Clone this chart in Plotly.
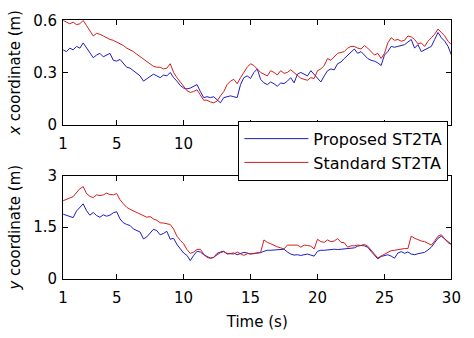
import plotly.graph_objects as go

t_start = 1.0
t_step = 0.25

x_proposed = [0.43, 0.42, 0.44, 0.43, 0.45, 0.44, 0.47, 0.44, 0.41, 0.385,
              0.40, 0.41, 0.39, 0.40, 0.41, 0.37, 0.365, 0.375, 0.35, 0.33,
              0.325, 0.31, 0.30, 0.28, 0.25, 0.265, 0.28, 0.29, 0.28, 0.27,
              0.285, 0.28, 0.30, 0.27, 0.25, 0.225, 0.21, 0.205, 0.21, 0.22,
              0.23, 0.19, 0.155, 0.16, 0.155, 0.16, 0.14, 0.125, 0.155, 0.16,
              0.165, 0.16, 0.155, 0.23, 0.27, 0.28, 0.265, 0.30, 0.32, 0.26,
              0.24, 0.23, 0.245, 0.235, 0.22, 0.24, 0.235, 0.25, 0.27, 0.24,
              0.29, 0.30, 0.29, 0.28, 0.31, 0.29, 0.265, 0.245, 0.28, 0.31,
              0.32, 0.315, 0.35, 0.36, 0.38, 0.40, 0.42, 0.435, 0.41, 0.42,
              0.40, 0.38, 0.37, 0.365, 0.355, 0.34, 0.40, 0.42, 0.45, 0.445,
              0.45, 0.455, 0.46, 0.475, 0.49, 0.44, 0.46, 0.42, 0.43, 0.44,
              0.45, 0.49, 0.53, 0.50, 0.48, 0.45, 0.40]

x_standard = [0.60, 0.59, 0.58, 0.59, 0.575, 0.58, 0.60, 0.57, 0.54, 0.51,
              0.525, 0.52, 0.51, 0.50, 0.49, 0.485, 0.475, 0.465, 0.455, 0.44,
              0.43, 0.42, 0.405, 0.39, 0.375, 0.36, 0.345, 0.335, 0.33, 0.33,
              0.32, 0.325, 0.35, 0.30, 0.27, 0.245, 0.22, 0.195, 0.185, 0.19,
              0.20, 0.17, 0.14, 0.14, 0.13, 0.125, 0.135, 0.165, 0.19, 0.23,
              0.25, 0.26, 0.235, 0.27, 0.30, 0.33, 0.35, 0.34, 0.32, 0.30,
              0.29, 0.28, 0.31, 0.30, 0.285, 0.31, 0.295, 0.30, 0.315, 0.30,
              0.285, 0.267, 0.26, 0.255, 0.27, 0.265, 0.31, 0.32, 0.34, 0.38,
              0.37, 0.39, 0.41, 0.415, 0.42, 0.44, 0.45, 0.45, 0.44, 0.435,
              0.455, 0.44, 0.42, 0.40, 0.41, 0.38, 0.41, 0.47, 0.50, 0.485,
              0.49, 0.48, 0.485, 0.51, 0.505, 0.49, 0.465, 0.47, 0.45, 0.48,
              0.50, 0.52, 0.55, 0.53, 0.51, 0.48, 0.46]

y_proposed = [1.88, 1.85, 1.80, 1.78, 1.97, 2.06, 2.18, 1.98, 1.85, 1.93,
              1.84, 1.79, 1.86, 1.82, 1.85, 1.92, 1.95, 1.74, 1.63, 1.58,
              1.55, 1.45, 1.40, 1.36, 1.16, 1.22, 1.33, 1.44, 1.40, 1.28,
              1.32, 1.38, 1.15, 1.18, 1.00, 0.88, 0.75, 0.68, 0.53, 0.68,
              0.80, 0.78, 0.70, 0.65, 0.60, 0.62, 0.74, 0.78, 0.80, 0.72,
              0.74, 0.75, 0.70, 0.74, 0.77, 0.75, 0.72, 0.74, 0.75, 0.76,
              0.80, 0.83, 0.83, 0.84, 0.84, 0.87, 0.86, 0.78, 0.72, 0.69,
              0.70, 0.68, 0.69, 0.72, 0.69, 0.66, 0.80, 0.83, 0.83, 0.84,
              0.86, 0.86, 0.85, 0.86, 0.86, 0.87, 0.88, 0.90, 0.95, 0.97,
              0.96, 0.92, 0.80, 0.70, 0.58, 0.65, 0.67, 0.70, 0.66, 0.60,
              0.75, 0.79, 0.74, 0.78, 0.72, 0.70, 0.73, 0.74, 0.77, 0.84,
              0.92, 1.05, 1.18, 1.24, 1.16, 1.08, 1.00]

y_standard = [2.27, 2.30, 2.35, 2.39, 2.50, 2.62, 2.68, 2.48, 2.40, 2.36,
              2.44, 2.42, 2.44, 2.49, 2.45, 2.44, 2.48, 2.30, 2.18, 2.08,
              2.02, 1.97, 1.92, 1.87, 1.82, 1.79, 1.81, 1.74, 1.70, 1.63,
              1.62, 1.60, 1.58, 1.45, 1.24, 1.12, 1.02, 0.85, 0.74, 0.78,
              0.85, 0.86, 0.72, 0.62, 0.60, 0.63, 0.70, 0.76, 0.79, 0.74,
              0.73, 0.72, 0.78, 0.72, 0.68, 0.73, 0.72, 0.73, 0.75, 0.77,
              1.13, 1.06, 1.02, 0.97, 0.93, 0.90, 0.87, 0.98, 0.98, 0.97,
              0.98, 0.92, 0.98, 0.97, 0.95, 0.87, 1.15, 1.08, 1.06, 1.13,
              1.08, 1.10, 1.17, 1.06, 1.05, 0.92, 0.96, 0.96, 0.98, 0.97,
              1.00, 0.95, 0.85, 0.72, 0.61, 0.66, 0.70, 0.75, 0.82, 0.83,
              0.85, 0.87, 0.88, 0.88, 1.24, 1.18, 1.13, 1.10, 1.08, 1.03,
              0.98, 1.10, 1.24, 1.28, 1.15, 1.05, 1.00]

series_names = ["Proposed ST2TA", "Standard ST2TA"]
x_ticks = [1, 5, 10, 15, 20, 25, 30]
x_tick_text = ["1", "5", "10", "15", "20", "25", "30"]
# top panel: labels right of 10 are hidden behind the legend box
top_x_tick_text = ["1", "5", "10", "", "", "", ""]
top_ticks = [0, 0.3, 0.6]
bottom_ticks = [0, 1.5, 3]
bottom_tick_text = ["0", "1.5", "3"]

def tgrid(vals):
    return [t_start + t_step * i for i in range(len(vals))]

BLUE = "#1c1cc4"
RED = "#d41e1e"
FONT = "DejaVu Sans, Arial, sans-serif"

fig = go.Figure()
fig.add_trace(go.Scatter(x=tgrid(x_proposed), y=x_proposed, mode="lines",
                         line=dict(color=BLUE, width=1), name=series_names[0],
                         xaxis="x", yaxis="y"))
fig.add_trace(go.Scatter(x=tgrid(x_standard), y=x_standard, mode="lines",
                         line=dict(color=RED, width=1), name=series_names[1],
                         xaxis="x", yaxis="y"))
fig.add_trace(go.Scatter(x=tgrid(y_proposed), y=y_proposed, mode="lines",
                         line=dict(color=BLUE, width=1), name=series_names[0],
                         showlegend=False, xaxis="x2", yaxis="y2"))
fig.add_trace(go.Scatter(x=tgrid(y_standard), y=y_standard, mode="lines",
                         line=dict(color=RED, width=1), name=series_names[1],
                         showlegend=False, xaxis="x2", yaxis="y2"))

W, H = 474, 338
xdom = [60 / W, 461 / W]
ax_common = dict(showline=True, linecolor="black", linewidth=1, mirror="allticks",
                 ticks="inside", ticklen=5, tickcolor="black", showgrid=False,
                 zeroline=False, tickfont=dict(family=FONT, size=15, color="black"))

fig.update_layout(
    width=W, height=H,
    margin=dict(l=0, r=0, t=0, b=0),
    paper_bgcolor="white", plot_bgcolor="white",
    font=dict(family=FONT, color="black"),
    showlegend=True,
    xaxis=dict(domain=xdom, range=[1, 30], tickvals=x_ticks, ticktext=top_x_tick_text,
               anchor="y", ticklabelstandoff=5, **ax_common),
    yaxis=dict(domain=[1 - 122 / H, 1 - 12 / H], range=[0, 0.6], tickvals=top_ticks,
               anchor="x", ticklabelstandoff=2,
               title=dict(text="<i>x</i> coordinate (m)", font=dict(family=FONT, size=15),
                          standoff=8),
               **ax_common),
    xaxis2=dict(domain=xdom, range=[1, 30], tickvals=x_ticks, ticktext=x_tick_text,
                anchor="y2", ticklabelstandoff=5,
                title=dict(text="Time (s)", font=dict(family=FONT, size=15), standoff=10),
                **ax_common),
    yaxis2=dict(domain=[1 - 285 / H, 1 - 176 / H], range=[0, 3], tickvals=bottom_ticks,
                ticktext=bottom_tick_text, anchor="x2", ticklabelstandoff=2,
                title=dict(text="<i>y</i> coordinate (m)", font=dict(family=FONT, size=15),
                           standoff=8),
                **ax_common),
    legend=dict(x=241 / W, y=1 - 118 / H, xanchor="left", yanchor="top",
                bgcolor="white", bordercolor="black", borderwidth=1,
                font=dict(family=FONT, size=16, color="black"),
                tracegroupgap=0, itemwidth=64),
)

fig.write_html("out.html")
